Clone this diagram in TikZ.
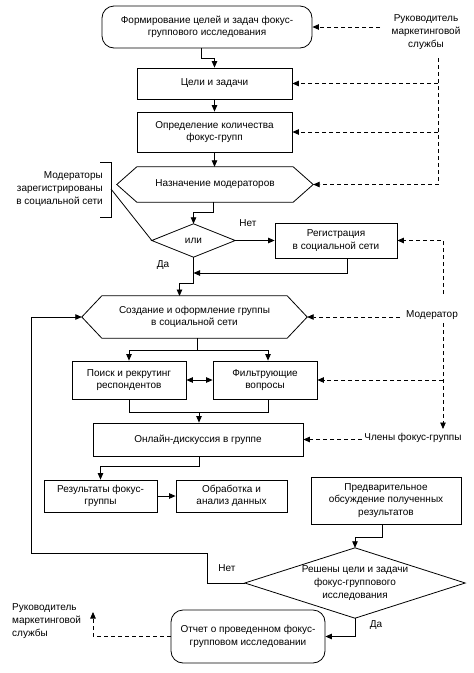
\documentclass[tikz,border=0pt]{standalone}
\usepackage{fontspec}
\setmainfont{Liberation Sans}
\usetikzlibrary{arrows.meta,calc}
\newcommand\dfont{\fontsize{10}{12.6}\selectfont}
\tikzset{
  base/.style={font=\dfont, align=center, inner sep=1pt},
  box/.style={base, draw, line width=0.8pt},
  rbox/.style={box, rounded corners=12pt},
  ghost/.style={base},
  ln/.style={line width=0.8pt},
  arr/.style={ln, -{Triangle[length=6.5pt,width=5.5pt]}},
  arrtwo/.style={ln, {Triangle[length=6.5pt,width=5.5pt]}-{Triangle[length=6.5pt,width=5.5pt]}},
  darr/.style={arr, dash pattern=on 4pt off 3pt},
  lbl/.style={font=\dfont, inner sep=1pt}
}
\begin{document}
\begin{tikzpicture}[x=1pt,y=-1pt]
\useasboundingbox (0,0) rectangle (474,673);
% nodes
\node[rbox, minimum width=210, minimum height=42] (top) at (207,27) {Формирование целей и задач фокус-\\группового исследования};
\node[box, minimum width=155, minimum height=31] (b1) at (214.5,83.5) {Цели и задачи};
\node[box, minimum width=155, minimum height=40] (b2) at (214.5,132) {Определение количества\\фокус-групп};
\node[ghost, minimum width=196, minimum height=35] (h1) at (215,184.5) {Назначение модераторов};
\draw[ln] (h1.west) -- ([xshift=20pt]h1.north west) -- ([xshift=-20pt]h1.north east) -- (h1.east) -- ([xshift=-20pt]h1.south east) -- ([xshift=20pt]h1.south west) -- cycle;
\node[ghost, minimum width=83, minimum height=33] (d1) at (193.5,240.5) {или};
\draw[ln] (d1.west) -- (d1.north) -- (d1.east) -- (d1.south) -- cycle;
\node[box, minimum width=122, minimum height=35] (reg) at (336,240.5) {Регистрация\\в социальной сети};
\node[ghost, minimum width=225, minimum height=42] (h2) at (194.5,317) {Создание и оформление группы\\в социальной сети};
\draw[ln] (h2.west) -- ([xshift=20pt]h2.north west) -- ([xshift=-20pt]h2.north east) -- (h2.east) -- ([xshift=-20pt]h2.south east) -- ([xshift=20pt]h2.south west) -- cycle;
\node[box, minimum width=114, minimum height=38] (poisk) at (129,380) {Поиск и рекрутинг\\респондентов};
\node[box, minimum width=104, minimum height=38] (filt) at (265,380) {Фильтрующие\\вопросы};
\node[box, minimum width=210, minimum height=33] (online) at (198,439.5) {Онлайн-дискуссия в группе};
\node[box, minimum width=113, minimum height=32] (res) at (100.5,496) {Результаты фокус-\\группы};
\node[box, minimum width=111, minimum height=32] (obr) at (231.5,496) {Обработка и\\анализ данных};
\node[box, minimum width=150, minimum height=47] (pred) at (386,500.5) {Предварительное\\обсуждение полученных\\результатов};
\node[ghost, minimum width=220, minimum height=70] (d2) at (355,583) {Решены цели и задачи\\фокус-группового\\исследования};
\draw[ln] (d2.west) -- (d2.north) -- (d2.east) -- (d2.south) -- cycle;
\node[rbox, minimum width=154, minimum height=53] (otchet) at (248,636.5) {Отчет о проведенном фокус-\\групповом исследовании};
% labels
\node[lbl, align=center] (ruk1) at (426,32) {Руководитель\\маркетинговой\\службы};
\node[lbl, align=right, anchor=east] (modreg) at (104,189) {Модераторы\\зарегистрированы\\в социальной сети};
\node[lbl] (net1) at (248,223) {Нет};
\node[lbl] (da1) at (163,265) {Да};
\node[lbl] (moder) at (432,315) {Модератор};
\node[lbl] (chleny) at (413,438) {Члены фокус-группы};
\node[lbl] (net2) at (227,568) {Нет};
\node[lbl] (da2) at (376,625) {Да};
\node[lbl, align=left, anchor=west] (ruk2) at (11,621) {Руководитель\\маркетинговой\\службы};
% bracket
\coordinate (brk) at (111,189);
\draw[ln] (100,162) -- (111,162) -- (111,217) -- (100,217);
\draw[ln] (brk) -- (d1.west);
% solid connectors
\draw[arr] ([xshift=-6pt]top.south) -- ++(0,10) -| (b1.north);
\draw[arr] (b1.south) -- (b2.north);
\draw[arr] (b2.south) -- (b2.south |- h1.north);
\draw[arr] ([xshift=-2pt]h1.south) -- ++(0,10) -| (d1.north);
\draw[arr] (d1.east) -- (reg.west);
\coordinate (j1) at (193.5,273);
\draw[arr] ([xshift=11pt]reg.south) |- (j1);
\draw[ln] (d1.south) -- ++(0,26) -| ++(-14,0);
\draw[arr] (179.5,283) -- (179.5,296);
\coordinate (s1) at (197,350);
\draw[ln] ([xshift=2.5pt]h2.south) -- (s1);
\draw[arr] (s1) -| (poisk.north);
\draw[arr] (s1) -| ([xshift=3pt]filt.north);
\draw[arrtwo] (poisk.east) -- (filt.west);
\coordinate (m1) at (199,412);
\draw[ln] (poisk.south) -- ++(0,13) -| ([xshift=3pt]filt.south);
\draw[arr] (m1) -- (m1 |- online.north);
\draw[arr] ([xshift=1pt]online.south) -- ++(0,10) -| (res.north);
\draw[arr] (res.east) -- (obr.west);
\draw[arr] ([xshift=-4pt]pred.south) -- ++(0,13) -| (d2.north);
\draw[arr] (d2.west) -- ++(-37,0) -- ++(0,-30) -- ++(-176,0) |- (h2.west);
\draw[arr] (d2.south) |- (otchet.east);
% dashed connectors
\coordinate (v1) at (438,58);
\draw[darr] (380,27) -- (top.east);
\draw[darr] (v1) |- (h1.east);
\draw[darr] (v1 |- b1.east) -- (b1.east);
\draw[darr] (v1 |- b2.east) -- (b2.east);
\draw[darr] (443,294) |- (reg.east);
\draw[darr] (400,317) -- (h2.east);
\draw[darr] (443,323) -- (443,429);
\draw[darr] (443,380) -- (filt.east);
\draw[darr] (362,439.5) -- (online.east);
\draw[darr] (otchet.west) -| (93,612);
\end{tikzpicture}
\end{document}
